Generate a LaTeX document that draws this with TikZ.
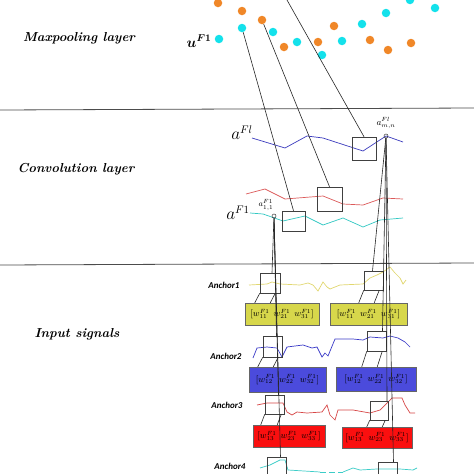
\documentclass[tikz,border=0pt]{standalone}
\usepackage{amsmath,bm}
\usepackage{fontspec}
\newfontfamily\anchorfont{Carlito}
\begin{document}
\begin{tikzpicture}[x=1pt,y=-1pt,
  odot/.style={circle,fill=dotorange,minimum size=8.5pt,inner sep=0pt},
  cdot/.style={circle,fill=dotcyan,minimum size=8.5pt,inner sep=0pt},
  layerlabel/.style={font=\fontsize{13}{15}\selectfont\bfseries\itshape,inner sep=0pt},
  anchorlabel/.style={font=\anchorfont\fontsize{9}{10}\selectfont\bfseries\itshape,inner sep=0pt},
  winbox/.style={draw=black!75,line width=0.5pt,inner sep=0pt},
  wbox/.style={draw=black!60,line width=0.4pt,inner sep=0pt,font=\fontsize{9}{10}\selectfont},
  link/.style={draw=black!85,line width=0.6pt},
  pt/.style={circle,draw=black!80,line width=0.5pt,minimum size=4pt,inner sep=0pt},
  sep/.style={draw=black!70,line width=0.8pt}]
\definecolor{dotorange}{RGB}{240,135,40}
\definecolor{dotcyan}{RGB}{20,225,235}
\definecolor{sigyellow}{RGB}{225,215,110}
\definecolor{sigblue}{RGB}{60,60,200}
\definecolor{sigred}{RGB}{215,70,70}
\definecolor{sigcyan}{RGB}{60,205,200}
\definecolor{convblue}{RGB}{60,60,190}
\definecolor{convred}{RGB}{220,90,90}
\definecolor{convcyan}{RGB}{50,200,195}
\definecolor{wyellow}{RGB}{215,215,75}
\definecolor{wblue}{RGB}{75,75,220}
\definecolor{wred}{RGB}{250,15,15}
\useasboundingbox (0,0) rectangle (474,474);
\fill[white] (0,0) rectangle (474,474);

% separators
\coordinate (s1a) at (0,110); \coordinate (s1b) at (474,108);
\coordinate (s2a) at (0,265); \coordinate (s2b) at (474,263);
\draw[sep] (s1a) -- (s1b);
\draw[sep] (s2a) -- (s2b);

% layer labels
\node[layerlabel] (lmax) at (79,38) {Maxpooling layer};
\node[layerlabel] (lconv) at (76,169) {Convolution layer};
\node[layerlabel] (linp) at (77,334) {Input signals};

% maxpooling dots
\node[odot] (o1) at (218,3) {};
\node[odot] (o2) at (242,11) {};
\node[odot] (o3) at (262,20) {};
\node[cdot] (c1) at (242,28) {};
\node[cdot] (c0) at (219,39) {};
\node[cdot] (c2) at (273,32) {};
\node[odot] (o4) at (284,47) {};
\node[cdot] (c3) at (297,42) {};
\node[odot] (o5) at (318,42) {};
\node[cdot] (c4) at (322,55) {};
\node[odot] (o6) at (334,26) {};
\node[cdot] (c5) at (342,41) {};
\node[cdot] (c6) at (362,24) {};
\node[odot] (o7) at (370,40) {};
\node[cdot] (c7) at (386,13) {};
\node[odot] (o8) at (388,50) {};
\node[cdot] (c8) at (410,0) {};
\node[odot] (o9) at (411,43) {};
\node[cdot] (c9) at (435,8) {};
\node[font=\fontsize{14}{16}\selectfont,inner sep=0pt] (uF) at (199,41) {$\bm{u}^{\bm{F1}}$};
\coordinate (topin) at (287,0);

% convolution layer signals
\draw[convblue,line width=0.7pt] (252,138) -- (285,148) -- (307,136) -- (323,138) -- (363,151) -- (386,136) -- (403,142);
\draw[convred,line width=0.7pt] (246,194) -- (265,189) -- (285,199) -- (323,196) -- (343,204) -- (363,205) -- (383,198) -- (403,199);
\draw[convcyan,line width=0.7pt] (250,213) -- (263,214) -- (283,221) -- (305,216) -- (323,225) -- (343,218) -- (363,227) -- (380,220) -- (403,218);

% conv boxes
\node[winbox,minimum width=23pt,minimum height=20pt] (cb1) at (293.5,221) {};
\node[winbox,minimum width=25pt,minimum height=24pt] (cb2) at (329.5,199) {};
\node[winbox,minimum width=24pt,minimum height=23pt] (cb3) at (364,148.5) {};

\node[font=\fontsize{16}{18}\selectfont,inner sep=0pt] (aFl) at (242,133) {$a^{Fl}$};
\node[font=\fontsize{16}{18}\selectfont,inner sep=0pt] (aF1) at (238,213) {$a^{F1}$};
\node[font=\fontsize{8.5}{9}\selectfont,inner sep=0pt] (a11) at (266,205) {$a^{F1}_{1,1}$};
\node[font=\fontsize{9}{10}\selectfont,inner sep=0pt] (amn) at (386,123) {$a^{Fl}_{m,n}$};
\node[pt] (p1) at (274,216) {};
\node[pt] (p2) at (386,136) {};

% links maxpool -> conv
\draw[link] (c1) -- (cb1.north);
\draw[link] (o3) -- (cb2.north);
\draw[link] (topin) -- (cb3.north);

% input signals
\draw[sigyellow,line width=0.7pt] (249,285) -- (267,284) -- (272,282) -- (280,284) -- (300,285) -- (308,283) -- (313,285) -- (318,291) -- (323,282) -- (327,287) -- (330,289) -- (340,285) -- (363,284) -- (370,278) -- (377,275) -- (383,272) -- (390,267) -- (395,273) -- (400,278) -- (403,284) -- (406,280);
\draw[sigblue,line width=0.7pt] (253,358) -- (257,348) -- (267,347) -- (277,348) -- (282,357) -- (287,347) -- (303,345) -- (312,348) -- (317,347) -- (322,357) -- (325,353) -- (328,356) -- (335,339) -- (353,339) -- (363,340) -- (370,337) -- (383,338) -- (390,336) -- (398,338) -- (405,342) -- (410,347);
\draw[sigred,line width=0.7pt] (257,405) -- (267,403) -- (283,403) -- (287,412) -- (292,415) -- (297,412) -- (307,413) -- (322,412) -- (327,405) -- (330,415) -- (335,420) -- (338,410) -- (353,410) -- (370,413) -- (380,410) -- (387,403) -- (392,398) -- (402,398) -- (405,405) -- (410,413) -- (415,413);
\draw[sigcyan,line width=0.7pt] (260,468) -- (270,465) -- (280,460) -- (285,460) -- (288,470) -- (320,472);
\draw[sigcyan,line width=0.7pt,dash pattern=on 6pt off 3pt] (320,472) -- (343,472);
\draw[sigcyan,line width=0.7pt] (343,472) -- (353,468) -- (360,470) -- (377,469) -- (400,469) -- (413,470) -- (417,468);

\node[anchorlabel] (an1) at (224,285) {Anchor1};
\node[anchorlabel] (an2) at (226,356) {Anchor2};
\node[anchorlabel] (an3) at (227,405) {Anchor3};
\node[anchorlabel] (an4) at (230,466) {Anchor4};

% weight boxes
\node[wbox,fill=wyellow,minimum width=74pt,minimum height=22pt] (w1l) at (282,314) {$[w^{F1}_{11}\;\, w^{F1}_{21}\;\, w^{F1}_{31}]$};
\node[wbox,fill=wyellow,minimum width=77pt,minimum height=22pt] (w1r) at (368.5,314) {$[w^{F1}_{11}\;\, w^{F1}_{21}\;\, w^{F1}_{31}]$};
\node[wbox,fill=wblue,minimum width=77pt,minimum height=25pt] (w2l) at (287.5,379.5) {$[w^{F1}_{12}\;\, w^{F1}_{22}\;\, w^{F1}_{32}]$};
\node[wbox,fill=wblue,minimum width=80pt,minimum height=24pt] (w2r) at (376,379) {$[w^{F1}_{12}\;\, w^{F1}_{22}\;\, w^{F1}_{32}]$};
\node[wbox,fill=wred,minimum width=72pt,minimum height=22pt] (w3l) at (289,436) {$[w^{F1}_{13}\;\, w^{F1}_{23}\;\, w^{F1}_{33}]$};
\node[wbox,fill=wred,minimum width=70pt,minimum height=21pt] (w3r) at (377,437.5) {$[w^{F1}_{13}\;\, w^{F1}_{23}\;\, w^{F1}_{33}]$};

% anchor windows
\node[winbox,minimum width=20pt,minimum height=20pt] (k1l) at (270,283) {};
\node[winbox,minimum width=19pt,minimum height=19pt] (k1r) at (373.5,280.5) {};
\node[winbox,minimum width=19pt,minimum height=21pt] (k2l) at (272.5,346.5) {};
\node[winbox,minimum width=19pt,minimum height=20pt] (k2r) at (376.5,341) {};
\node[winbox,minimum width=19pt,minimum height=19pt] (k3l) at (274.5,404.5) {};
\node[winbox,minimum width=18pt,minimum height=19pt] (k3r) at (379,410.5) {};
\node[winbox,minimum width=19pt,minimum height=20pt] (k4l) at (276.5,467) {};
\node[winbox,minimum width=19pt,minimum height=20pt] (k4r) at (387.5,472) {};

% legs from windows to weight boxes
\draw[link] (k1l.south west) -- ([xshift=-5pt]k1l.south west |- w1l.north);
\draw[link] ([xshift=-5pt]k1l.south east) -- ([xshift=-10pt]k1l.south east |- w1l.north);
\draw[link] (k1r.south west) -- ([xshift=-5pt]k1r.south west |- w1r.north);
\draw[link] ([xshift=-4pt]k1r.south east) -- ([xshift=-9pt]k1r.south east |- w1r.north);
\draw[link] (k2l.south west) -- ([xshift=-5pt]k2l.south west |- w2l.north);
\draw[link] ([xshift=-4pt]k2l.south east) -- ([xshift=-9pt]k2l.south east |- w2l.north);
\draw[link] (k2r.south west) -- ([xshift=-5pt]k2r.south west |- w2r.north);
\draw[link] ([xshift=-4pt]k2r.south east) -- ([xshift=-9pt]k2r.south east |- w2r.north);
\draw[link] (k3l.south west) -- ([xshift=-4pt]k3l.south west |- w3l.north);
\draw[link] ([xshift=-3pt]k3l.south east) -- ([xshift=-7pt]k3l.south east |- w3l.north);
\draw[link] (k3r.south west) -- ([xshift=-3pt]k3r.south west |- w3r.north);
\draw[link] ([xshift=-3pt]k3r.south east) -- ([xshift=-6pt]k3r.south east |- w3r.north);

% links conv -> windows
\draw[link] (p1) -- ([xshift=2pt]k1l.north);
\draw[link] (p1) -- ([xshift=4pt]k2l.north);
\draw[link] (p1) -- ([xshift=4pt]k3l.north);
\draw[link] (p1) -- ([xshift=4pt]k4l.north);
\draw[link] (p2) -- ([xshift=-1pt]k1r.north);
\draw[link] (p2) -- ([xshift=6pt]k2r.north);
\draw[link] (p2) -- ([xshift=8pt]k3r.north);
\draw[link] (p2) -- ([xshift=6pt]k4r.north);
\end{tikzpicture}
\end{document}
